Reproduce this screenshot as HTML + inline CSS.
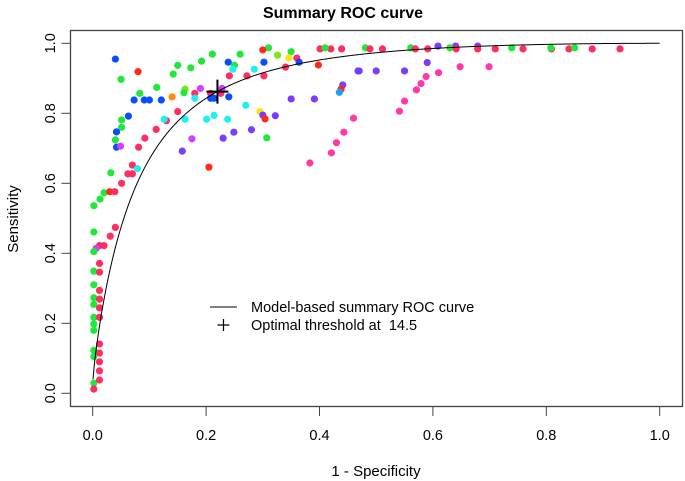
<!DOCTYPE html>
<html><head><meta charset="utf-8"><style>
html,body{margin:0;padding:0;background:#fff;}
svg{display:block;font-family:"Liberation Sans",Arial,sans-serif;}
</style></head><body>
<svg id="chart" width="685" height="481" viewBox="0 0 685 481" xmlns="http://www.w3.org/2000/svg">
<text x="343" y="18" text-anchor="middle" font-size="16" font-weight="bold">Summary ROC curve</text>
<rect x="70.5" y="30.5" width="612" height="376" fill="none" stroke="#444" stroke-width="1.3"/>
<g id="xaxis"></g>
<g id="yaxis"></g>
<text x="376" y="476" text-anchor="middle" font-size="15">1 - Specificity</text>
<text transform="translate(18,219) rotate(-90)" text-anchor="middle" font-size="15">Sensitivity</text>
<g id="points"></g>
<path id="curve" fill="none" stroke="#000" stroke-width="1"/>
<g id="optimal"></g>
<g>
<line x1="210" y1="307" x2="237" y2="307" stroke="#000" stroke-width="1"/>
<text x="251" y="312" font-size="14.5">Model-based summary ROC curve</text>
<path d="M217.5 325 H229.5 M223.5 319 V331" stroke="#000" stroke-width="1.2"/>
<text x="251" y="330" font-size="14.5">Optimal threshold at&#160; 14.5</text>
</g>
</svg>
<script>
const xTicks=[0,0.2,0.4,0.6,0.8,1.0];
const xTickLabels=["0.0","0.2","0.4","0.6","0.8","1.0"];
const yTicks=[0,0.2,0.4,0.6,0.8,1.0];
const yTickLabels=["0.0","0.2","0.4","0.6","0.8","1.0"];
const fpr=[0.040,0.080,0.050,0.083,0.073,0.091,0.100,0.121,0.113,0.142,0.150,0.173,0.192,0.211,0.260,0.310,0.300,0.326,0.350,0.346,0.360,0.364,0.398,0.401,0.420,0.439,0.410,0.468,
0.239,0.250,0.247,0.241,0.272,0.302,0.285,0.302,0.340,0.163,0.161,0.140,0.180,0.190,0.180,0.208,0.226,0.208,0.214,0.228,0.240,0.270,0.295,0.300,0.304,0.322,0.350,0.391,0.441,0.438,0.435,
0.460,0.443,0.430,0.421,0.383,0.307,0.280,0.249,0.230,0.175,0.158,0.205,0.214,0.238,0.201,0.163,0.130,0.126,0.150,0.112,0.092,0.081,0.063,0.051,0.051,0.042,0.040,0.042,0.049,
0.070,0.062,0.070,0.079,0.051,0.032,0.020,0.013,0.002,0.030,0.039,0.040,0.031,0.020,0.012,0.006,
0.002,0.002,0.002,0.002,0.002,0.002,0.002,0.002,0.002,0.002,0.002,0.002,
0.012,0.012,0.012,0.012,0.012,0.012,0.012,0.012,0.012,0.012,0.012,0.002,
0.481,0.489,0.511,0.561,0.569,0.591,0.609,0.640,0.679,0.630,0.641,0.679,0.710,0.759,0.809,0.840,0.881,0.930,0.739,0.808,0.850,
0.470,0.500,0.550,0.590,0.648,0.699,0.610,0.588,0.579,0.571,0.550,0.541];
const sens=[0.955,0.919,0.897,0.857,0.838,0.838,0.838,0.838,0.874,0.912,0.937,0.930,0.949,0.969,0.969,0.987,0.981,0.966,0.976,0.958,0.958,0.946,0.938,0.984,0.984,0.984,0.987,0.921,
0.946,0.937,0.926,0.907,0.907,0.946,0.926,0.907,0.932,0.869,0.859,0.847,0.857,0.871,0.843,0.857,0.857,0.843,0.843,0.871,0.847,0.823,0.805,0.795,0.784,0.793,0.841,0.841,0.881,0.869,0.860,
0.786,0.746,0.716,0.687,0.658,0.730,0.753,0.746,0.729,0.727,0.692,0.646,0.794,0.783,0.783,0.783,0.779,0.783,0.805,0.754,0.729,0.703,0.792,0.781,0.760,0.747,0.724,0.703,0.706,
0.652,0.627,0.627,0.642,0.600,0.630,0.573,0.555,0.536,0.576,0.576,0.474,0.449,0.422,0.422,0.414,
0.461,0.405,0.349,0.310,0.273,0.254,0.217,0.198,0.180,0.123,0.105,0.029,
0.371,0.346,0.294,0.269,0.244,0.217,0.141,0.115,0.090,0.064,0.038,0.012,
0.987,0.984,0.984,0.987,0.984,0.984,0.992,0.992,0.992,0.987,0.984,0.984,0.984,0.984,0.984,0.984,0.984,0.984,0.987,0.987,0.987,
0.921,0.921,0.921,0.945,0.933,0.933,0.916,0.905,0.885,0.867,0.835,0.806];
const groups="BRGGBBBBGGGGGGGGRLGYPBRPPPGU"+"BGCPPBCPPLGOPVCPPBBVBCYURUUUURS"+"MMMMMGUUUVURCCCCPCPPPPBGGBGBV"+"PPPCPGGGGRPPPPPV"+"GGGGGGGGGGGG"+"PPPPPPPPPPPP"+"GPPGPPUUUGPPPPPPPPGGG"+"UUUUMMMMMMMM";
const palette={G:"#1fe83a",R:"#ff2a1a",P:"#ff2d62",M:"#ff3aa8",U:"#7a3cff",B:"#0a4dff",C:"#1ef0f0",O:"#ff8a10",Y:"#ffe010",L:"#7ae818",V:"#d040ff",S:"#18a0ff"};
const optX=0.22, optY=0.862;
const curveCoef=[3.582,1.4805,0.0779];

const NS="http://www.w3.org/2000/svg";
const sx=v=>92.7+v*567;
const sy=v=>393.3-v*350;
function mk(tag,attrs,parent){const e=document.createElementNS(NS,tag);for(const k in attrs)e.setAttribute(k,attrs[k]);parent.appendChild(e);return e;}
const xa=document.getElementById('xaxis'), ya=document.getElementById('yaxis');
xTicks.forEach((t,i)=>{
  const l=mk('line',{x1:sx(t),x2:sx(t),y1:406.7,y2:416,stroke:'#444','stroke-width':1},xa);
  
  
  const tx=mk('text',{x:sx(t),y:440,'text-anchor':'middle','font-size':14.5},xa);
  tx.textContent=xTickLabels[i];
  
  
});
yTicks.forEach((t,i)=>{
  const l=mk('line',{x1:61.5,x2:70.5,y1:sy(t),y2:sy(t),stroke:'#444','stroke-width':1},ya);
  
  
  const tx=mk('text',{transform:`translate(55,${sy(t)}) rotate(-90)`,'text-anchor':'middle','font-size':14.5},ya);
  tx.textContent=yTickLabels[i];
  
  
});
const pg=document.getElementById('points');
for(let i=0;i<fpr.length;i++){
  const c=mk('circle',{cx:sx(fpr[i]),cy:sy(sens[i]),r:3.6,fill:palette[groups[i]]||"#ff2d62"},pg);
  
  
}
let d="";
for(let k=0;k<=400;k++){
  const x=0.0005+k*(0.999-0.0005)/400;
  const u=Math.log(x/(1-x));
  const z=curveCoef[0]+curveCoef[1]*u+curveCoef[2]*u*u;
  const y=1/(1+Math.exp(-z));
  d+=(k?"L":"M")+sx(x).toFixed(2)+" "+sy(y).toFixed(2);
}
d+="L"+sx(1)+" "+sy(1);
document.getElementById('curve').setAttribute('d',d);
const og=document.getElementById('optimal');
const cx=sx(optX), cy=sy(optY);
const p=mk('path',{d:`M${cx-11} ${cy} H${cx+11} M${cx} ${cy-12} V${cy+12}`,stroke:'#000','stroke-width':2},og);


</script>
</body></html>
